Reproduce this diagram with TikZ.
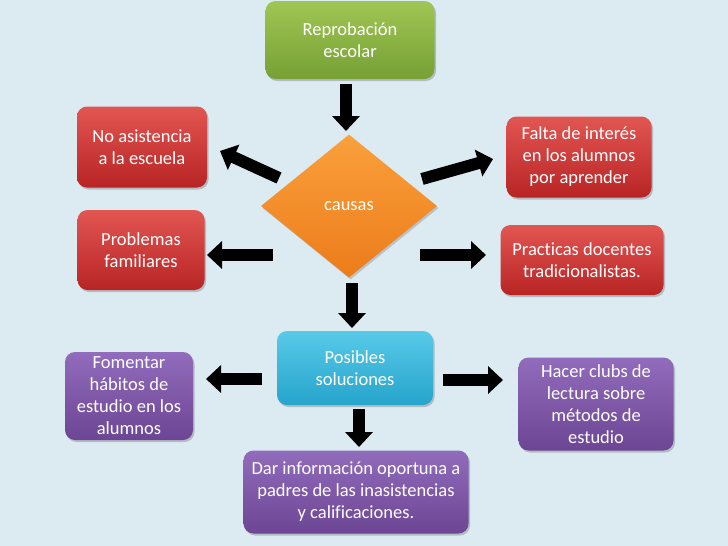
\documentclass[tikz,border=0pt]{standalone}
\usepackage{fontspec}
\setmainfont[Ligatures=NoCommon]{Carlito}
\usetikzlibrary{shapes.geometric,arrows.meta,shadows}
\definecolor{bg}{RGB}{220,235,242}
\definecolor{gtop}{RGB}{160,199,84}
\definecolor{gbot}{RGB}{118,160,52}
\definecolor{rtop}{RGB}{226,86,82}
\definecolor{rbot}{RGB}{184,36,36}
\definecolor{ctop}{RGB}{88,202,232}
\definecolor{cbot}{RGB}{38,164,204}
\definecolor{ptop}{RGB}{146,108,188}
\definecolor{pbot}{RGB}{108,70,148}
\definecolor{otop}{RGB}{250,160,60}
\definecolor{obot}{RGB}{236,124,26}
\tikzset{
  txt/.style={font=\fontsize{18.5}{22}\selectfont},
  box/.style={rounded corners=10pt, align=center, text=white, inner sep=2pt, txt,
    drop shadow={shadow xshift=1.5pt, shadow yshift=-2pt, opacity=0.35, fill=black!60}},
  gbox/.style={box, top color=gtop, bottom color=gbot},
  rbox/.style={box, top color=rtop, bottom color=rbot},
  cbox/.style={box, top color=ctop, bottom color=cbot},
  pbox/.style={box, top color=ptop, bottom color=pbot},
  blk/.style={line width=12pt, draw=black, -{Triangle[length=15pt,width=27pt]}},
}
\begin{document}
\begin{tikzpicture}[x=1pt,y=-1pt]
\useasboundingbox (0,0) rectangle (728,546);
\fill[bg] (0,0) rectangle (728,546);

\node[gbox, minimum width=169pt, minimum height=78pt] (rep) at (350,40) {Reprobación\\escolar};
\node[shape=diamond, aspect=1.23, minimum width=176pt, minimum height=143pt, inner sep=0pt,
  top color=otop, bottom color=obot, text=white, txt,
  drop shadow={shadow xshift=1.5pt, shadow yshift=-2pt, opacity=0.3, fill=black!60}] (causas) at (349,206) {causas};

\node[rbox, minimum width=130pt, minimum height=81pt] (noas) at (142,147) {No asistencia\\a la escuela};
\node[rbox, minimum width=127pt, minimum height=80pt] (prob) at (141,250) {Problemas\\familiares};
\node[rbox, minimum width=145pt, minimum height=81pt] (falta) at (579,157) {Falta de interés\\en los alumnos\\por aprender};
\node[rbox, minimum width=163pt, minimum height=70pt] (prac) at (582,260) {Practicas docentes\\tradicionalistas.};

\node[cbox, minimum width=156pt, minimum height=74pt] (pos) at (355,368) {Posibles\\soluciones};
\node[pbox, minimum width=128pt, minimum height=88pt] (fom) at (129,396) {Fomentar\\hábitos de\\estudio en los\\alumnos};
\node[pbox, minimum width=155pt, minimum height=93pt] (hac) at (596,404) {Hacer clubs de\\lectura sobre\\métodos de\\estudio};
\node[pbox, minimum width=225pt, minimum height=83pt] (dar) at (356,492) {Dar información oportuna a\\padres de las inasistencias\\y calificaciones.};

% arrow end coordinates
\coordinate (a1s) at (346,84);  \coordinate (a1e) at (346,131);
\coordinate (a2s) at (279,178); \coordinate (a2e) at (220,151);
\coordinate (a3s) at (273,255); \coordinate (a3e) at (207,255);
\coordinate (a4s) at (422,179); \coordinate (a4e) at (493,159);
\coordinate (a5s) at (420,255); \coordinate (a5e) at (486,255);
\coordinate (a6s) at (352,283); \coordinate (a6e) at (352,328);
\coordinate (a7s) at (262,379); \coordinate (a7e) at (206,379);
\coordinate (a8s) at (443,380); \coordinate (a8e) at (503,380);
\coordinate (a9s) at (359,409); \coordinate (a9e) at (359,447);

\draw[blk] (a1s) -- (a1e);
\draw[blk] (a2s) -- (a2e);
\draw[blk] (a3s) -- (a3e);
\draw[blk] (a4s) -- (a4e);
\draw[blk] (a5s) -- (a5e);
\draw[blk] (a6s) -- (a6e);
\draw[blk] (a7s) -- (a7e);
\draw[blk] (a8s) -- (a8e);
\draw[blk] (a9s) -- (a9e);
\end{tikzpicture}
\end{document}
